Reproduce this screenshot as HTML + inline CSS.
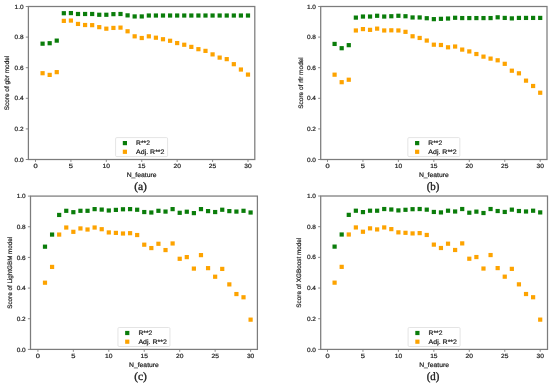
<!DOCTYPE html>
<html><head><meta charset="utf-8"><title>Feature selection scores</title>
<style>
html,body{margin:0;padding:0;background:#fff;}
body{width:550px;height:387px;overflow:hidden;}
svg{display:block;filter:blur(0.3px);}
text{text-rendering:geometricPrecision;font-family:"Liberation Sans",sans-serif;fill:#222;stroke:#222;stroke-width:0.2px;}
text.cap{font-family:"Liberation Serif",serif;fill:#222;stroke:#222;stroke-width:0.35px;}
</style></head><body>
<svg width="550" height="387" viewBox="0 0 550 387">
<rect x="0" y="0" width="550" height="387" fill="#fff"/>
<g>
<rect x="40.48" y="41.58" width="4.2" height="4.2" fill="#0a7d0a"/>
<rect x="47.57" y="41.12" width="4.2" height="4.2" fill="#0a7d0a"/>
<rect x="54.65" y="38.52" width="4.2" height="4.2" fill="#0a7d0a"/>
<rect x="61.73" y="11.13" width="4.2" height="4.2" fill="#0a7d0a"/>
<rect x="68.81" y="10.98" width="4.2" height="4.2" fill="#0a7d0a"/>
<rect x="75.9" y="11.89" width="4.2" height="4.2" fill="#0a7d0a"/>
<rect x="82.98" y="11.89" width="4.2" height="4.2" fill="#0a7d0a"/>
<rect x="90.06" y="11.89" width="4.2" height="4.2" fill="#0a7d0a"/>
<rect x="97.15" y="12.66" width="4.2" height="4.2" fill="#0a7d0a"/>
<rect x="104.23" y="12.66" width="4.2" height="4.2" fill="#0a7d0a"/>
<rect x="111.31" y="12.05" width="4.2" height="4.2" fill="#0a7d0a"/>
<rect x="118.4" y="11.89" width="4.2" height="4.2" fill="#0a7d0a"/>
<rect x="125.48" y="13.27" width="4.2" height="4.2" fill="#0a7d0a"/>
<rect x="132.56" y="14.34" width="4.2" height="4.2" fill="#0a7d0a"/>
<rect x="139.65" y="14.34" width="4.2" height="4.2" fill="#0a7d0a"/>
<rect x="146.73" y="13.42" width="4.2" height="4.2" fill="#0a7d0a"/>
<rect x="153.81" y="13.42" width="4.2" height="4.2" fill="#0a7d0a"/>
<rect x="160.89" y="13.42" width="4.2" height="4.2" fill="#0a7d0a"/>
<rect x="167.98" y="13.42" width="4.2" height="4.2" fill="#0a7d0a"/>
<rect x="175.06" y="13.42" width="4.2" height="4.2" fill="#0a7d0a"/>
<rect x="182.14" y="13.42" width="4.2" height="4.2" fill="#0a7d0a"/>
<rect x="189.23" y="13.42" width="4.2" height="4.2" fill="#0a7d0a"/>
<rect x="196.31" y="13.42" width="4.2" height="4.2" fill="#0a7d0a"/>
<rect x="203.39" y="13.42" width="4.2" height="4.2" fill="#0a7d0a"/>
<rect x="210.48" y="13.42" width="4.2" height="4.2" fill="#0a7d0a"/>
<rect x="217.56" y="13.42" width="4.2" height="4.2" fill="#0a7d0a"/>
<rect x="224.64" y="13.42" width="4.2" height="4.2" fill="#0a7d0a"/>
<rect x="231.72" y="13.42" width="4.2" height="4.2" fill="#0a7d0a"/>
<rect x="238.81" y="13.42" width="4.2" height="4.2" fill="#0a7d0a"/>
<rect x="245.89" y="13.42" width="4.2" height="4.2" fill="#0a7d0a"/>
<rect x="40.48" y="71.11" width="4.2" height="4.2" fill="#fda300"/>
<rect x="47.57" y="72.79" width="4.2" height="4.2" fill="#fda300"/>
<rect x="54.65" y="70.03" width="4.2" height="4.2" fill="#fda300"/>
<rect x="61.73" y="18.78" width="4.2" height="4.2" fill="#fda300"/>
<rect x="68.81" y="18.47" width="4.2" height="4.2" fill="#fda300"/>
<rect x="75.9" y="21.84" width="4.2" height="4.2" fill="#fda300"/>
<rect x="82.98" y="22.91" width="4.2" height="4.2" fill="#fda300"/>
<rect x="90.06" y="23.06" width="4.2" height="4.2" fill="#fda300"/>
<rect x="97.15" y="25.05" width="4.2" height="4.2" fill="#fda300"/>
<rect x="104.23" y="26.58" width="4.2" height="4.2" fill="#fda300"/>
<rect x="111.31" y="25.82" width="4.2" height="4.2" fill="#fda300"/>
<rect x="118.4" y="25.51" width="4.2" height="4.2" fill="#fda300"/>
<rect x="125.48" y="29.18" width="4.2" height="4.2" fill="#fda300"/>
<rect x="132.56" y="34.23" width="4.2" height="4.2" fill="#fda300"/>
<rect x="139.65" y="35.91" width="4.2" height="4.2" fill="#fda300"/>
<rect x="146.73" y="34.23" width="4.2" height="4.2" fill="#fda300"/>
<rect x="153.81" y="35.61" width="4.2" height="4.2" fill="#fda300"/>
<rect x="160.89" y="37.14" width="4.2" height="4.2" fill="#fda300"/>
<rect x="167.98" y="38.67" width="4.2" height="4.2" fill="#fda300"/>
<rect x="175.06" y="40.96" width="4.2" height="4.2" fill="#fda300"/>
<rect x="182.14" y="42.65" width="4.2" height="4.2" fill="#fda300"/>
<rect x="189.23" y="44.79" width="4.2" height="4.2" fill="#fda300"/>
<rect x="196.31" y="47.08" width="4.2" height="4.2" fill="#fda300"/>
<rect x="203.39" y="48.77" width="4.2" height="4.2" fill="#fda300"/>
<rect x="210.48" y="52.29" width="4.2" height="4.2" fill="#fda300"/>
<rect x="217.56" y="55.5" width="4.2" height="4.2" fill="#fda300"/>
<rect x="224.64" y="57.03" width="4.2" height="4.2" fill="#fda300"/>
<rect x="231.72" y="62.08" width="4.2" height="4.2" fill="#fda300"/>
<rect x="238.81" y="67.43" width="4.2" height="4.2" fill="#fda300"/>
<rect x="245.89" y="72.48" width="4.2" height="4.2" fill="#fda300"/>
<rect x="115.6" y="137.6" width="52" height="19" rx="1.2" fill="#fff" fill-opacity="0.85" stroke="#ddd" stroke-width="0.8"/>
<rect x="122.8" y="141" width="4.2" height="4.2" fill="#0a7d0a"/>
<rect x="122.8" y="149.7" width="4.2" height="4.2" fill="#fda300"/>
<text x="136.1" y="145.3" font-size="6.4" textLength="13.8" lengthAdjust="spacingAndGlyphs">R**2</text>
<text x="136.1" y="154" font-size="6.4" textLength="28.4" lengthAdjust="spacingAndGlyphs">Adj. R**2</text>
<rect x="28.4" y="6.5" width="226.4" height="153" fill="none" stroke="#7c7c7c" stroke-width="1.25"/>
<line x1="25.8" y1="159.5" x2="28.4" y2="159.5" stroke="#7c7c7c" stroke-width="0.9"/>
<text x="23.6" y="161.6" font-size="6.2" text-anchor="end" textLength="9" lengthAdjust="spacingAndGlyphs">0.0</text>
<line x1="25.8" y1="128.9" x2="28.4" y2="128.9" stroke="#7c7c7c" stroke-width="0.9"/>
<text x="23.6" y="131" font-size="6.2" text-anchor="end" textLength="9" lengthAdjust="spacingAndGlyphs">0.2</text>
<line x1="25.8" y1="98.3" x2="28.4" y2="98.3" stroke="#7c7c7c" stroke-width="0.9"/>
<text x="23.6" y="100.4" font-size="6.2" text-anchor="end" textLength="9" lengthAdjust="spacingAndGlyphs">0.4</text>
<line x1="25.8" y1="67.7" x2="28.4" y2="67.7" stroke="#7c7c7c" stroke-width="0.9"/>
<text x="23.6" y="69.8" font-size="6.2" text-anchor="end" textLength="9" lengthAdjust="spacingAndGlyphs">0.6</text>
<line x1="25.8" y1="37.1" x2="28.4" y2="37.1" stroke="#7c7c7c" stroke-width="0.9"/>
<text x="23.6" y="39.2" font-size="6.2" text-anchor="end" textLength="9" lengthAdjust="spacingAndGlyphs">0.8</text>
<line x1="25.8" y1="6.5" x2="28.4" y2="6.5" stroke="#7c7c7c" stroke-width="0.9"/>
<text x="23.6" y="8.6" font-size="6.2" text-anchor="end" textLength="9" lengthAdjust="spacingAndGlyphs">1.0</text>
<line x1="35.5" y1="159.5" x2="35.5" y2="161.9" stroke="#7c7c7c" stroke-width="0.9"/>
<text x="35.5" y="168.3" font-size="6.2" text-anchor="middle" textLength="4.2" lengthAdjust="spacingAndGlyphs">0</text>
<line x1="70.91" y1="159.5" x2="70.91" y2="161.9" stroke="#7c7c7c" stroke-width="0.9"/>
<text x="70.91" y="168.3" font-size="6.2" text-anchor="middle" textLength="4.2" lengthAdjust="spacingAndGlyphs">5</text>
<line x1="106.33" y1="159.5" x2="106.33" y2="161.9" stroke="#7c7c7c" stroke-width="0.9"/>
<text x="106.33" y="168.3" font-size="6.2" text-anchor="middle" textLength="7.4" lengthAdjust="spacingAndGlyphs">10</text>
<line x1="141.75" y1="159.5" x2="141.75" y2="161.9" stroke="#7c7c7c" stroke-width="0.9"/>
<text x="141.75" y="168.3" font-size="6.2" text-anchor="middle" textLength="7.4" lengthAdjust="spacingAndGlyphs">15</text>
<line x1="177.16" y1="159.5" x2="177.16" y2="161.9" stroke="#7c7c7c" stroke-width="0.9"/>
<text x="177.16" y="168.3" font-size="6.2" text-anchor="middle" textLength="7.4" lengthAdjust="spacingAndGlyphs">20</text>
<line x1="212.58" y1="159.5" x2="212.58" y2="161.9" stroke="#7c7c7c" stroke-width="0.9"/>
<text x="212.58" y="168.3" font-size="6.2" text-anchor="middle" textLength="7.4" lengthAdjust="spacingAndGlyphs">25</text>
<line x1="247.99" y1="159.5" x2="247.99" y2="161.9" stroke="#7c7c7c" stroke-width="0.9"/>
<text x="247.99" y="168.3" font-size="6.2" text-anchor="middle" textLength="7.4" lengthAdjust="spacingAndGlyphs">30</text>
<text x="141.6" y="176.9" font-size="6.4" text-anchor="middle" textLength="29.8" lengthAdjust="spacingAndGlyphs">N_feature</text>
<text x="0" y="0" font-size="6.4" text-anchor="middle" textLength="54.7" lengthAdjust="spacingAndGlyphs" transform="translate(8.6 83) rotate(-90)">Score of gbr model</text>
<text class="cap" x="140.5" y="190" font-size="11.4" text-anchor="middle" textLength="12.7" lengthAdjust="spacingAndGlyphs">(a)</text>
</g>
<g>
<rect x="332.49" y="41.83" width="4.2" height="4.2" fill="#0a7d0a"/>
<rect x="339.58" y="46.11" width="4.2" height="4.2" fill="#0a7d0a"/>
<rect x="346.67" y="43.05" width="4.2" height="4.2" fill="#0a7d0a"/>
<rect x="353.76" y="15.51" width="4.2" height="4.2" fill="#0a7d0a"/>
<rect x="360.85" y="14.44" width="4.2" height="4.2" fill="#0a7d0a"/>
<rect x="367.94" y="14.44" width="4.2" height="4.2" fill="#0a7d0a"/>
<rect x="375.03" y="13.68" width="4.2" height="4.2" fill="#0a7d0a"/>
<rect x="382.12" y="14.44" width="4.2" height="4.2" fill="#0a7d0a"/>
<rect x="389.21" y="14.14" width="4.2" height="4.2" fill="#0a7d0a"/>
<rect x="396.3" y="13.68" width="4.2" height="4.2" fill="#0a7d0a"/>
<rect x="403.39" y="14.14" width="4.2" height="4.2" fill="#0a7d0a"/>
<rect x="410.48" y="15.36" width="4.2" height="4.2" fill="#0a7d0a"/>
<rect x="417.57" y="15.36" width="4.2" height="4.2" fill="#0a7d0a"/>
<rect x="424.66" y="16.12" width="4.2" height="4.2" fill="#0a7d0a"/>
<rect x="431.75" y="17.04" width="4.2" height="4.2" fill="#0a7d0a"/>
<rect x="438.84" y="16.74" width="4.2" height="4.2" fill="#0a7d0a"/>
<rect x="445.93" y="16.43" width="4.2" height="4.2" fill="#0a7d0a"/>
<rect x="453.02" y="15.67" width="4.2" height="4.2" fill="#0a7d0a"/>
<rect x="460.11" y="15.97" width="4.2" height="4.2" fill="#0a7d0a"/>
<rect x="467.2" y="15.97" width="4.2" height="4.2" fill="#0a7d0a"/>
<rect x="474.29" y="15.97" width="4.2" height="4.2" fill="#0a7d0a"/>
<rect x="481.38" y="15.97" width="4.2" height="4.2" fill="#0a7d0a"/>
<rect x="488.47" y="15.97" width="4.2" height="4.2" fill="#0a7d0a"/>
<rect x="495.56" y="15.21" width="4.2" height="4.2" fill="#0a7d0a"/>
<rect x="502.65" y="15.82" width="4.2" height="4.2" fill="#0a7d0a"/>
<rect x="509.74" y="16.28" width="4.2" height="4.2" fill="#0a7d0a"/>
<rect x="516.83" y="15.82" width="4.2" height="4.2" fill="#0a7d0a"/>
<rect x="523.92" y="15.82" width="4.2" height="4.2" fill="#0a7d0a"/>
<rect x="531.01" y="15.82" width="4.2" height="4.2" fill="#0a7d0a"/>
<rect x="538.1" y="15.82" width="4.2" height="4.2" fill="#0a7d0a"/>
<rect x="332.49" y="72.58" width="4.2" height="4.2" fill="#fda300"/>
<rect x="339.58" y="80.08" width="4.2" height="4.2" fill="#fda300"/>
<rect x="346.67" y="77.63" width="4.2" height="4.2" fill="#fda300"/>
<rect x="353.76" y="28.37" width="4.2" height="4.2" fill="#fda300"/>
<rect x="360.85" y="26.99" width="4.2" height="4.2" fill="#fda300"/>
<rect x="367.94" y="27.75" width="4.2" height="4.2" fill="#fda300"/>
<rect x="375.03" y="26.53" width="4.2" height="4.2" fill="#fda300"/>
<rect x="382.12" y="28.37" width="4.2" height="4.2" fill="#fda300"/>
<rect x="389.21" y="28.21" width="4.2" height="4.2" fill="#fda300"/>
<rect x="396.3" y="28.37" width="4.2" height="4.2" fill="#fda300"/>
<rect x="403.39" y="29.74" width="4.2" height="4.2" fill="#fda300"/>
<rect x="410.48" y="34.18" width="4.2" height="4.2" fill="#fda300"/>
<rect x="417.57" y="35.86" width="4.2" height="4.2" fill="#fda300"/>
<rect x="424.66" y="38.46" width="4.2" height="4.2" fill="#fda300"/>
<rect x="431.75" y="42.59" width="4.2" height="4.2" fill="#fda300"/>
<rect x="438.84" y="42.9" width="4.2" height="4.2" fill="#fda300"/>
<rect x="445.93" y="45.2" width="4.2" height="4.2" fill="#fda300"/>
<rect x="453.02" y="44.43" width="4.2" height="4.2" fill="#fda300"/>
<rect x="460.11" y="47.49" width="4.2" height="4.2" fill="#fda300"/>
<rect x="467.2" y="49.33" width="4.2" height="4.2" fill="#fda300"/>
<rect x="474.29" y="51.93" width="4.2" height="4.2" fill="#fda300"/>
<rect x="481.38" y="54.53" width="4.2" height="4.2" fill="#fda300"/>
<rect x="488.47" y="56.52" width="4.2" height="4.2" fill="#fda300"/>
<rect x="495.56" y="58.2" width="4.2" height="4.2" fill="#fda300"/>
<rect x="502.65" y="61.72" width="4.2" height="4.2" fill="#fda300"/>
<rect x="509.74" y="68.6" width="4.2" height="4.2" fill="#fda300"/>
<rect x="516.83" y="71.21" width="4.2" height="4.2" fill="#fda300"/>
<rect x="523.92" y="78.55" width="4.2" height="4.2" fill="#fda300"/>
<rect x="531.01" y="83.9" width="4.2" height="4.2" fill="#fda300"/>
<rect x="538.1" y="90.64" width="4.2" height="4.2" fill="#fda300"/>
<rect x="407.85" y="137.6" width="52" height="19" rx="1.2" fill="#fff" fill-opacity="0.85" stroke="#ddd" stroke-width="0.8"/>
<rect x="415.05" y="141" width="4.2" height="4.2" fill="#0a7d0a"/>
<rect x="415.05" y="149.7" width="4.2" height="4.2" fill="#fda300"/>
<text x="428.35" y="145.3" font-size="6.4" textLength="13.8" lengthAdjust="spacingAndGlyphs">R**2</text>
<text x="428.35" y="154" font-size="6.4" textLength="28.4" lengthAdjust="spacingAndGlyphs">Adj. R**2</text>
<rect x="320.7" y="6.5" width="226.3" height="153" fill="none" stroke="#7c7c7c" stroke-width="1.25"/>
<line x1="318.1" y1="159.5" x2="320.7" y2="159.5" stroke="#7c7c7c" stroke-width="0.9"/>
<text x="315.9" y="161.6" font-size="6.2" text-anchor="end" textLength="9" lengthAdjust="spacingAndGlyphs">0.0</text>
<line x1="318.1" y1="128.9" x2="320.7" y2="128.9" stroke="#7c7c7c" stroke-width="0.9"/>
<text x="315.9" y="131" font-size="6.2" text-anchor="end" textLength="9" lengthAdjust="spacingAndGlyphs">0.2</text>
<line x1="318.1" y1="98.3" x2="320.7" y2="98.3" stroke="#7c7c7c" stroke-width="0.9"/>
<text x="315.9" y="100.4" font-size="6.2" text-anchor="end" textLength="9" lengthAdjust="spacingAndGlyphs">0.4</text>
<line x1="318.1" y1="67.7" x2="320.7" y2="67.7" stroke="#7c7c7c" stroke-width="0.9"/>
<text x="315.9" y="69.8" font-size="6.2" text-anchor="end" textLength="9" lengthAdjust="spacingAndGlyphs">0.6</text>
<line x1="318.1" y1="37.1" x2="320.7" y2="37.1" stroke="#7c7c7c" stroke-width="0.9"/>
<text x="315.9" y="39.2" font-size="6.2" text-anchor="end" textLength="9" lengthAdjust="spacingAndGlyphs">0.8</text>
<line x1="318.1" y1="6.5" x2="320.7" y2="6.5" stroke="#7c7c7c" stroke-width="0.9"/>
<text x="315.9" y="8.6" font-size="6.2" text-anchor="end" textLength="9" lengthAdjust="spacingAndGlyphs">1.0</text>
<line x1="327.5" y1="159.5" x2="327.5" y2="161.9" stroke="#7c7c7c" stroke-width="0.9"/>
<text x="327.5" y="168.3" font-size="6.2" text-anchor="middle" textLength="4.2" lengthAdjust="spacingAndGlyphs">0</text>
<line x1="362.95" y1="159.5" x2="362.95" y2="161.9" stroke="#7c7c7c" stroke-width="0.9"/>
<text x="362.95" y="168.3" font-size="6.2" text-anchor="middle" textLength="4.2" lengthAdjust="spacingAndGlyphs">5</text>
<line x1="398.4" y1="159.5" x2="398.4" y2="161.9" stroke="#7c7c7c" stroke-width="0.9"/>
<text x="398.4" y="168.3" font-size="6.2" text-anchor="middle" textLength="7.4" lengthAdjust="spacingAndGlyphs">10</text>
<line x1="433.85" y1="159.5" x2="433.85" y2="161.9" stroke="#7c7c7c" stroke-width="0.9"/>
<text x="433.85" y="168.3" font-size="6.2" text-anchor="middle" textLength="7.4" lengthAdjust="spacingAndGlyphs">15</text>
<line x1="469.3" y1="159.5" x2="469.3" y2="161.9" stroke="#7c7c7c" stroke-width="0.9"/>
<text x="469.3" y="168.3" font-size="6.2" text-anchor="middle" textLength="7.4" lengthAdjust="spacingAndGlyphs">20</text>
<line x1="504.75" y1="159.5" x2="504.75" y2="161.9" stroke="#7c7c7c" stroke-width="0.9"/>
<text x="504.75" y="168.3" font-size="6.2" text-anchor="middle" textLength="7.4" lengthAdjust="spacingAndGlyphs">25</text>
<line x1="540.2" y1="159.5" x2="540.2" y2="161.9" stroke="#7c7c7c" stroke-width="0.9"/>
<text x="540.2" y="168.3" font-size="6.2" text-anchor="middle" textLength="7.4" lengthAdjust="spacingAndGlyphs">30</text>
<text x="433.85" y="176.9" font-size="6.4" text-anchor="middle" textLength="29.8" lengthAdjust="spacingAndGlyphs">N_feature</text>
<text x="0" y="0" font-size="6.4" text-anchor="middle" textLength="51.6" lengthAdjust="spacingAndGlyphs" transform="translate(302.7 83) rotate(-90)">Score of rfr model</text>
<text class="cap" x="433" y="190" font-size="11.4" text-anchor="middle" textLength="12.7" lengthAdjust="spacingAndGlyphs">(b)</text>
</g>
<g>
<rect x="42.89" y="244.58" width="4.2" height="4.2" fill="#0a7d0a"/>
<rect x="49.98" y="232.47" width="4.2" height="4.2" fill="#0a7d0a"/>
<rect x="57.07" y="212.85" width="4.2" height="4.2" fill="#0a7d0a"/>
<rect x="64.16" y="208.71" width="4.2" height="4.2" fill="#0a7d0a"/>
<rect x="71.25" y="210.09" width="4.2" height="4.2" fill="#0a7d0a"/>
<rect x="78.34" y="208.71" width="4.2" height="4.2" fill="#0a7d0a"/>
<rect x="85.43" y="208.71" width="4.2" height="4.2" fill="#0a7d0a"/>
<rect x="92.52" y="207.02" width="4.2" height="4.2" fill="#0a7d0a"/>
<rect x="99.61" y="207.48" width="4.2" height="4.2" fill="#0a7d0a"/>
<rect x="106.7" y="208.4" width="4.2" height="4.2" fill="#0a7d0a"/>
<rect x="113.79" y="207.79" width="4.2" height="4.2" fill="#0a7d0a"/>
<rect x="120.88" y="207.18" width="4.2" height="4.2" fill="#0a7d0a"/>
<rect x="127.97" y="207.02" width="4.2" height="4.2" fill="#0a7d0a"/>
<rect x="135.06" y="207.64" width="4.2" height="4.2" fill="#0a7d0a"/>
<rect x="142.15" y="209.94" width="4.2" height="4.2" fill="#0a7d0a"/>
<rect x="149.24" y="210.4" width="4.2" height="4.2" fill="#0a7d0a"/>
<rect x="156.33" y="208.71" width="4.2" height="4.2" fill="#0a7d0a"/>
<rect x="163.42" y="209.48" width="4.2" height="4.2" fill="#0a7d0a"/>
<rect x="170.51" y="207.02" width="4.2" height="4.2" fill="#0a7d0a"/>
<rect x="177.6" y="210.7" width="4.2" height="4.2" fill="#0a7d0a"/>
<rect x="184.69" y="209.63" width="4.2" height="4.2" fill="#0a7d0a"/>
<rect x="191.78" y="211.01" width="4.2" height="4.2" fill="#0a7d0a"/>
<rect x="198.87" y="207.02" width="4.2" height="4.2" fill="#0a7d0a"/>
<rect x="205.96" y="209.02" width="4.2" height="4.2" fill="#0a7d0a"/>
<rect x="213.05" y="209.94" width="4.2" height="4.2" fill="#0a7d0a"/>
<rect x="220.14" y="207.64" width="4.2" height="4.2" fill="#0a7d0a"/>
<rect x="227.23" y="209.02" width="4.2" height="4.2" fill="#0a7d0a"/>
<rect x="234.32" y="209.48" width="4.2" height="4.2" fill="#0a7d0a"/>
<rect x="241.41" y="208.71" width="4.2" height="4.2" fill="#0a7d0a"/>
<rect x="248.5" y="210.4" width="4.2" height="4.2" fill="#0a7d0a"/>
<rect x="42.89" y="280.61" width="4.2" height="4.2" fill="#fda300"/>
<rect x="49.98" y="264.82" width="4.2" height="4.2" fill="#fda300"/>
<rect x="57.07" y="232.47" width="4.2" height="4.2" fill="#fda300"/>
<rect x="64.16" y="225.42" width="4.2" height="4.2" fill="#fda300"/>
<rect x="71.25" y="229.71" width="4.2" height="4.2" fill="#fda300"/>
<rect x="78.34" y="226.34" width="4.2" height="4.2" fill="#fda300"/>
<rect x="85.43" y="227.41" width="4.2" height="4.2" fill="#fda300"/>
<rect x="92.52" y="225.42" width="4.2" height="4.2" fill="#fda300"/>
<rect x="99.61" y="227.11" width="4.2" height="4.2" fill="#fda300"/>
<rect x="106.7" y="230.33" width="4.2" height="4.2" fill="#fda300"/>
<rect x="113.79" y="230.79" width="4.2" height="4.2" fill="#fda300"/>
<rect x="120.88" y="231.4" width="4.2" height="4.2" fill="#fda300"/>
<rect x="127.97" y="231.09" width="4.2" height="4.2" fill="#fda300"/>
<rect x="135.06" y="232.93" width="4.2" height="4.2" fill="#fda300"/>
<rect x="142.15" y="242.59" width="4.2" height="4.2" fill="#fda300"/>
<rect x="149.24" y="245.96" width="4.2" height="4.2" fill="#fda300"/>
<rect x="156.33" y="241.67" width="4.2" height="4.2" fill="#fda300"/>
<rect x="163.42" y="247.96" width="4.2" height="4.2" fill="#fda300"/>
<rect x="170.51" y="241.36" width="4.2" height="4.2" fill="#fda300"/>
<rect x="177.6" y="256.69" width="4.2" height="4.2" fill="#fda300"/>
<rect x="184.69" y="255.01" width="4.2" height="4.2" fill="#fda300"/>
<rect x="191.78" y="266.5" width="4.2" height="4.2" fill="#fda300"/>
<rect x="198.87" y="253.01" width="4.2" height="4.2" fill="#fda300"/>
<rect x="205.96" y="266.04" width="4.2" height="4.2" fill="#fda300"/>
<rect x="213.05" y="274.63" width="4.2" height="4.2" fill="#fda300"/>
<rect x="220.14" y="266.81" width="4.2" height="4.2" fill="#fda300"/>
<rect x="227.23" y="282.29" width="4.2" height="4.2" fill="#fda300"/>
<rect x="234.32" y="291.95" width="4.2" height="4.2" fill="#fda300"/>
<rect x="241.41" y="295.17" width="4.2" height="4.2" fill="#fda300"/>
<rect x="248.5" y="317.55" width="4.2" height="4.2" fill="#fda300"/>
<rect x="117.95" y="327.5" width="52" height="19" rx="1.2" fill="#fff" fill-opacity="0.85" stroke="#ddd" stroke-width="0.8"/>
<rect x="125.15" y="330.9" width="4.2" height="4.2" fill="#0a7d0a"/>
<rect x="125.15" y="339.6" width="4.2" height="4.2" fill="#fda300"/>
<text x="138.45" y="335.2" font-size="6.4" textLength="13.8" lengthAdjust="spacingAndGlyphs">R**2</text>
<text x="138.45" y="343.9" font-size="6.4" textLength="28.4" lengthAdjust="spacingAndGlyphs">Adj. R**2</text>
<rect x="30.5" y="196.1" width="226.9" height="153.3" fill="none" stroke="#7c7c7c" stroke-width="1.25"/>
<line x1="27.9" y1="349.4" x2="30.5" y2="349.4" stroke="#7c7c7c" stroke-width="0.9"/>
<text x="25.7" y="351.5" font-size="6.2" text-anchor="end" textLength="9" lengthAdjust="spacingAndGlyphs">0.0</text>
<line x1="27.9" y1="318.74" x2="30.5" y2="318.74" stroke="#7c7c7c" stroke-width="0.9"/>
<text x="25.7" y="320.84" font-size="6.2" text-anchor="end" textLength="9" lengthAdjust="spacingAndGlyphs">0.2</text>
<line x1="27.9" y1="288.08" x2="30.5" y2="288.08" stroke="#7c7c7c" stroke-width="0.9"/>
<text x="25.7" y="290.18" font-size="6.2" text-anchor="end" textLength="9" lengthAdjust="spacingAndGlyphs">0.4</text>
<line x1="27.9" y1="257.42" x2="30.5" y2="257.42" stroke="#7c7c7c" stroke-width="0.9"/>
<text x="25.7" y="259.52" font-size="6.2" text-anchor="end" textLength="9" lengthAdjust="spacingAndGlyphs">0.6</text>
<line x1="27.9" y1="226.76" x2="30.5" y2="226.76" stroke="#7c7c7c" stroke-width="0.9"/>
<text x="25.7" y="228.86" font-size="6.2" text-anchor="end" textLength="9" lengthAdjust="spacingAndGlyphs">0.8</text>
<line x1="27.9" y1="196.1" x2="30.5" y2="196.1" stroke="#7c7c7c" stroke-width="0.9"/>
<text x="25.7" y="198.2" font-size="6.2" text-anchor="end" textLength="9" lengthAdjust="spacingAndGlyphs">1.0</text>
<line x1="37.9" y1="349.4" x2="37.9" y2="351.8" stroke="#7c7c7c" stroke-width="0.9"/>
<text x="37.9" y="358.2" font-size="6.2" text-anchor="middle" textLength="4.2" lengthAdjust="spacingAndGlyphs">0</text>
<line x1="73.35" y1="349.4" x2="73.35" y2="351.8" stroke="#7c7c7c" stroke-width="0.9"/>
<text x="73.35" y="358.2" font-size="6.2" text-anchor="middle" textLength="4.2" lengthAdjust="spacingAndGlyphs">5</text>
<line x1="108.8" y1="349.4" x2="108.8" y2="351.8" stroke="#7c7c7c" stroke-width="0.9"/>
<text x="108.8" y="358.2" font-size="6.2" text-anchor="middle" textLength="7.4" lengthAdjust="spacingAndGlyphs">10</text>
<line x1="144.25" y1="349.4" x2="144.25" y2="351.8" stroke="#7c7c7c" stroke-width="0.9"/>
<text x="144.25" y="358.2" font-size="6.2" text-anchor="middle" textLength="7.4" lengthAdjust="spacingAndGlyphs">15</text>
<line x1="179.7" y1="349.4" x2="179.7" y2="351.8" stroke="#7c7c7c" stroke-width="0.9"/>
<text x="179.7" y="358.2" font-size="6.2" text-anchor="middle" textLength="7.4" lengthAdjust="spacingAndGlyphs">20</text>
<line x1="215.15" y1="349.4" x2="215.15" y2="351.8" stroke="#7c7c7c" stroke-width="0.9"/>
<text x="215.15" y="358.2" font-size="6.2" text-anchor="middle" textLength="7.4" lengthAdjust="spacingAndGlyphs">25</text>
<line x1="250.6" y1="349.4" x2="250.6" y2="351.8" stroke="#7c7c7c" stroke-width="0.9"/>
<text x="250.6" y="358.2" font-size="6.2" text-anchor="middle" textLength="7.4" lengthAdjust="spacingAndGlyphs">30</text>
<text x="143.95" y="366.8" font-size="6.4" text-anchor="middle" textLength="29.8" lengthAdjust="spacingAndGlyphs">N_feature</text>
<text x="0" y="0" font-size="6.4" text-anchor="middle" textLength="72" lengthAdjust="spacingAndGlyphs" transform="translate(11.5 272.75) rotate(-90)">Score of LightGBM model</text>
<text class="cap" x="140.5" y="380" font-size="11.4" text-anchor="middle" textLength="12.7" lengthAdjust="spacingAndGlyphs">(c)</text>
</g>
<g>
<rect x="332.49" y="244.52" width="4.2" height="4.2" fill="#0a7d0a"/>
<rect x="339.58" y="232.4" width="4.2" height="4.2" fill="#0a7d0a"/>
<rect x="346.67" y="212.76" width="4.2" height="4.2" fill="#0a7d0a"/>
<rect x="353.76" y="208.62" width="4.2" height="4.2" fill="#0a7d0a"/>
<rect x="360.85" y="210" width="4.2" height="4.2" fill="#0a7d0a"/>
<rect x="367.94" y="208.62" width="4.2" height="4.2" fill="#0a7d0a"/>
<rect x="375.03" y="208.62" width="4.2" height="4.2" fill="#0a7d0a"/>
<rect x="382.12" y="206.93" width="4.2" height="4.2" fill="#0a7d0a"/>
<rect x="389.21" y="207.39" width="4.2" height="4.2" fill="#0a7d0a"/>
<rect x="396.3" y="208.31" width="4.2" height="4.2" fill="#0a7d0a"/>
<rect x="403.39" y="207.7" width="4.2" height="4.2" fill="#0a7d0a"/>
<rect x="410.48" y="207.09" width="4.2" height="4.2" fill="#0a7d0a"/>
<rect x="417.57" y="206.93" width="4.2" height="4.2" fill="#0a7d0a"/>
<rect x="424.66" y="207.55" width="4.2" height="4.2" fill="#0a7d0a"/>
<rect x="431.75" y="209.85" width="4.2" height="4.2" fill="#0a7d0a"/>
<rect x="438.84" y="210.31" width="4.2" height="4.2" fill="#0a7d0a"/>
<rect x="445.93" y="208.62" width="4.2" height="4.2" fill="#0a7d0a"/>
<rect x="453.02" y="209.39" width="4.2" height="4.2" fill="#0a7d0a"/>
<rect x="460.11" y="206.93" width="4.2" height="4.2" fill="#0a7d0a"/>
<rect x="467.2" y="210.61" width="4.2" height="4.2" fill="#0a7d0a"/>
<rect x="474.29" y="209.54" width="4.2" height="4.2" fill="#0a7d0a"/>
<rect x="481.38" y="210.92" width="4.2" height="4.2" fill="#0a7d0a"/>
<rect x="488.47" y="206.93" width="4.2" height="4.2" fill="#0a7d0a"/>
<rect x="495.56" y="208.93" width="4.2" height="4.2" fill="#0a7d0a"/>
<rect x="502.65" y="209.85" width="4.2" height="4.2" fill="#0a7d0a"/>
<rect x="509.74" y="207.55" width="4.2" height="4.2" fill="#0a7d0a"/>
<rect x="516.83" y="208.93" width="4.2" height="4.2" fill="#0a7d0a"/>
<rect x="523.92" y="209.39" width="4.2" height="4.2" fill="#0a7d0a"/>
<rect x="531.01" y="208.62" width="4.2" height="4.2" fill="#0a7d0a"/>
<rect x="538.1" y="210.31" width="4.2" height="4.2" fill="#0a7d0a"/>
<rect x="332.49" y="280.56" width="4.2" height="4.2" fill="#fda300"/>
<rect x="339.58" y="264.76" width="4.2" height="4.2" fill="#fda300"/>
<rect x="346.67" y="232.4" width="4.2" height="4.2" fill="#fda300"/>
<rect x="353.76" y="225.34" width="4.2" height="4.2" fill="#fda300"/>
<rect x="360.85" y="229.64" width="4.2" height="4.2" fill="#fda300"/>
<rect x="367.94" y="226.26" width="4.2" height="4.2" fill="#fda300"/>
<rect x="375.03" y="227.33" width="4.2" height="4.2" fill="#fda300"/>
<rect x="382.12" y="225.34" width="4.2" height="4.2" fill="#fda300"/>
<rect x="389.21" y="227.03" width="4.2" height="4.2" fill="#fda300"/>
<rect x="396.3" y="230.25" width="4.2" height="4.2" fill="#fda300"/>
<rect x="403.39" y="230.71" width="4.2" height="4.2" fill="#fda300"/>
<rect x="410.48" y="231.32" width="4.2" height="4.2" fill="#fda300"/>
<rect x="417.57" y="231.02" width="4.2" height="4.2" fill="#fda300"/>
<rect x="424.66" y="232.86" width="4.2" height="4.2" fill="#fda300"/>
<rect x="431.75" y="242.52" width="4.2" height="4.2" fill="#fda300"/>
<rect x="438.84" y="245.9" width="4.2" height="4.2" fill="#fda300"/>
<rect x="445.93" y="241.6" width="4.2" height="4.2" fill="#fda300"/>
<rect x="453.02" y="247.89" width="4.2" height="4.2" fill="#fda300"/>
<rect x="460.11" y="241.29" width="4.2" height="4.2" fill="#fda300"/>
<rect x="467.2" y="256.63" width="4.2" height="4.2" fill="#fda300"/>
<rect x="474.29" y="254.95" width="4.2" height="4.2" fill="#fda300"/>
<rect x="481.38" y="266.45" width="4.2" height="4.2" fill="#fda300"/>
<rect x="488.47" y="252.95" width="4.2" height="4.2" fill="#fda300"/>
<rect x="495.56" y="265.99" width="4.2" height="4.2" fill="#fda300"/>
<rect x="502.65" y="274.58" width="4.2" height="4.2" fill="#fda300"/>
<rect x="509.74" y="266.76" width="4.2" height="4.2" fill="#fda300"/>
<rect x="516.83" y="282.25" width="4.2" height="4.2" fill="#fda300"/>
<rect x="523.92" y="291.92" width="4.2" height="4.2" fill="#fda300"/>
<rect x="531.01" y="295.14" width="4.2" height="4.2" fill="#fda300"/>
<rect x="538.1" y="317.53" width="4.2" height="4.2" fill="#fda300"/>
<rect x="408.1" y="327.5" width="52" height="19" rx="1.2" fill="#fff" fill-opacity="0.85" stroke="#ddd" stroke-width="0.8"/>
<rect x="415.3" y="330.9" width="4.2" height="4.2" fill="#0a7d0a"/>
<rect x="415.3" y="339.6" width="4.2" height="4.2" fill="#fda300"/>
<text x="428.6" y="335.2" font-size="6.4" textLength="13.8" lengthAdjust="spacingAndGlyphs">R**2</text>
<text x="428.6" y="343.9" font-size="6.4" textLength="28.4" lengthAdjust="spacingAndGlyphs">Adj. R**2</text>
<rect x="320.7" y="196" width="226.8" height="153.4" fill="none" stroke="#7c7c7c" stroke-width="1.25"/>
<line x1="318.1" y1="349.4" x2="320.7" y2="349.4" stroke="#7c7c7c" stroke-width="0.9"/>
<text x="315.9" y="351.5" font-size="6.2" text-anchor="end" textLength="9" lengthAdjust="spacingAndGlyphs">0.0</text>
<line x1="318.1" y1="318.72" x2="320.7" y2="318.72" stroke="#7c7c7c" stroke-width="0.9"/>
<text x="315.9" y="320.82" font-size="6.2" text-anchor="end" textLength="9" lengthAdjust="spacingAndGlyphs">0.2</text>
<line x1="318.1" y1="288.04" x2="320.7" y2="288.04" stroke="#7c7c7c" stroke-width="0.9"/>
<text x="315.9" y="290.14" font-size="6.2" text-anchor="end" textLength="9" lengthAdjust="spacingAndGlyphs">0.4</text>
<line x1="318.1" y1="257.36" x2="320.7" y2="257.36" stroke="#7c7c7c" stroke-width="0.9"/>
<text x="315.9" y="259.46" font-size="6.2" text-anchor="end" textLength="9" lengthAdjust="spacingAndGlyphs">0.6</text>
<line x1="318.1" y1="226.68" x2="320.7" y2="226.68" stroke="#7c7c7c" stroke-width="0.9"/>
<text x="315.9" y="228.78" font-size="6.2" text-anchor="end" textLength="9" lengthAdjust="spacingAndGlyphs">0.8</text>
<line x1="318.1" y1="196" x2="320.7" y2="196" stroke="#7c7c7c" stroke-width="0.9"/>
<text x="315.9" y="198.1" font-size="6.2" text-anchor="end" textLength="9" lengthAdjust="spacingAndGlyphs">1.0</text>
<line x1="327.5" y1="349.4" x2="327.5" y2="351.8" stroke="#7c7c7c" stroke-width="0.9"/>
<text x="327.5" y="358.2" font-size="6.2" text-anchor="middle" textLength="4.2" lengthAdjust="spacingAndGlyphs">0</text>
<line x1="362.95" y1="349.4" x2="362.95" y2="351.8" stroke="#7c7c7c" stroke-width="0.9"/>
<text x="362.95" y="358.2" font-size="6.2" text-anchor="middle" textLength="4.2" lengthAdjust="spacingAndGlyphs">5</text>
<line x1="398.4" y1="349.4" x2="398.4" y2="351.8" stroke="#7c7c7c" stroke-width="0.9"/>
<text x="398.4" y="358.2" font-size="6.2" text-anchor="middle" textLength="7.4" lengthAdjust="spacingAndGlyphs">10</text>
<line x1="433.85" y1="349.4" x2="433.85" y2="351.8" stroke="#7c7c7c" stroke-width="0.9"/>
<text x="433.85" y="358.2" font-size="6.2" text-anchor="middle" textLength="7.4" lengthAdjust="spacingAndGlyphs">15</text>
<line x1="469.3" y1="349.4" x2="469.3" y2="351.8" stroke="#7c7c7c" stroke-width="0.9"/>
<text x="469.3" y="358.2" font-size="6.2" text-anchor="middle" textLength="7.4" lengthAdjust="spacingAndGlyphs">20</text>
<line x1="504.75" y1="349.4" x2="504.75" y2="351.8" stroke="#7c7c7c" stroke-width="0.9"/>
<text x="504.75" y="358.2" font-size="6.2" text-anchor="middle" textLength="7.4" lengthAdjust="spacingAndGlyphs">25</text>
<line x1="540.2" y1="349.4" x2="540.2" y2="351.8" stroke="#7c7c7c" stroke-width="0.9"/>
<text x="540.2" y="358.2" font-size="6.2" text-anchor="middle" textLength="7.4" lengthAdjust="spacingAndGlyphs">30</text>
<text x="434.1" y="366.8" font-size="6.4" text-anchor="middle" textLength="29.8" lengthAdjust="spacingAndGlyphs">N_feature</text>
<text x="0" y="0" font-size="6.4" text-anchor="middle" textLength="70" lengthAdjust="spacingAndGlyphs" transform="translate(301.3 272.7) rotate(-90)">Score of XGBoost model</text>
<text class="cap" x="433" y="380" font-size="11.4" text-anchor="middle" textLength="12.7" lengthAdjust="spacingAndGlyphs">(d)</text>
</g>
</svg>
</body></html>
